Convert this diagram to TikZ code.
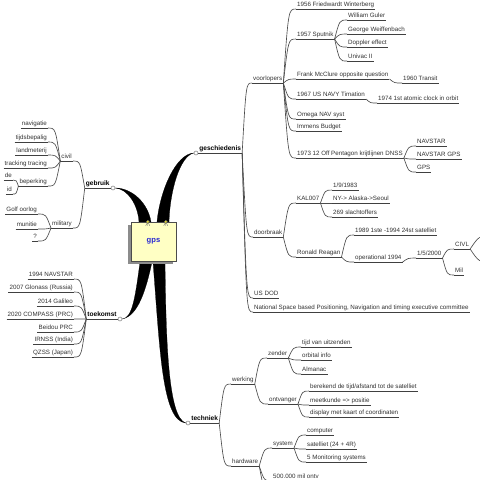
\documentclass[tikz,border=0pt]{standalone}
\usepackage{fontspec}
\setmainfont{Liberation Sans}
\usetikzlibrary{calc,shadows}
\definecolor{notegray}{RGB}{50,50,50}
\definecolor{boxyellow}{RGB}{255,255,196}
\definecolor{gpsblue}{RGB}{40,40,210}
\definecolor{pinyellow}{RGB}{230,220,40}

\begin{document}
\begin{tikzpicture}[
    x=0.03cm, y=-0.03cm,
    topic/.style={font=\fontsize{5.3}{6}\selectfont, text=notegray, inner sep=0.8pt,
      text height=3.8pt, text depth=1.1pt,
      append after command={([yshift=-0.6pt]\tikzlastnode.south west) edge[ushadow] ([yshift=-0.6pt]\tikzlastnode.south east)
        (\tikzlastnode.south west) edge[uline] (\tikzlastnode.south east)}},
    rt/.style={topic, anchor=west},
    lt/.style={topic, anchor=east},
    main/.style={topic, font=\fontsize{5.6}{6}\selectfont\bfseries, text=black},
    uline/.style={draw=black!75, line width=0.55pt},
    ushadow/.style={draw=black!25, line width=0.5pt},
    link/.style={draw=black!70, line width=0.55pt,
      to path={let \p1=(\tikztostart), \p2=(\tikztotarget) in
        .. controls ({0.6*\x1+0.4*\x2},\y2) .. (\p2)}},
    knob/.style={circle, draw=black!55, fill=white, line width=0.4pt, inner sep=0pt, minimum size=0.12cm},
    trunk/.style={fill=black, draw=black, line width=0.2pt}
  ]
  \useasboundingbox (0,0) rectangle (480,480);
  \fill[white] (0,0) rectangle (480,480);
  \clip (0,0) rectangle (480,480);

  \node[knob] (kgebruik) at (113,188) {};
  \node[knob] (kgeschiedenis) at (196,153) {};
  \node[knob] (ktoekomst) at (120,319) {};
  \node[knob] (ktechniek) at (188,423) {};

  \path[trunk] (139,222) .. controls (138,205) and (128,189) .. (kgebruik.east)
    .. controls (132,188) and (148,203) .. (151,222) -- cycle;
  \path[trunk] (157,222) .. controls (160,190) and (176,154) .. (kgeschiedenis.west)
    .. controls (180,156) and (170,190) .. (169,222) -- cycle;
  \path[trunk] (140,262) .. controls (135,300) and (132,318) .. (ktoekomst.east)
    .. controls (138,316) and (146,290) .. (152,262) -- cycle;
  \path[trunk] (153,262) .. controls (160,350) and (162,421) .. (ktechniek.west)
    .. controls (168,418) and (166,340) .. (165,262) -- cycle;

  \node[draw=black!70, fill=boxyellow, minimum width=1.35cm, minimum height=1.17cm,
    drop shadow={shadow xshift=-0.09cm, shadow yshift=-0.09cm, fill=black!45, opacity=1},
    font=\fontsize{6.5}{7}\selectfont\bfseries, text=gpsblue] (gps) at (153.5,241.5) {gps};
  \foreach \dx in {17,35} {
    \draw[black!60, line width=0.3pt] ($(gps.north west)+(\dx,0)$) -- ++(-2,4)
      ($(gps.north west)+(\dx,0)$) -- ++(0,4) ($(gps.north west)+(\dx,0)$) -- ++(2,4);
    \filldraw[fill=pinyellow, draw=black!60, line width=0.3pt] ($(gps.north west)+(\dx,0)$) circle (1.3pt);
  }

  % gebruik
  \node[main, anchor=south east] (gebruik) at (kgebruik.west) {gebruik};
  \node[lt] (civil) at (73,157) {civil};
  \node[lt] (navigatie) at (48,124) {navigatie};
  \node[lt] (tijdsbepalig) at (48,138) {tijdsbepalig};
  \node[lt] (landmeterij) at (48,151) {landmeterij};
  \node[lt] (tracking) at (48,164) {tracking tracing};
  \node[lt] (beperking) at (48,182) {beperking};
  \node[lt] (beperkA) at (13,176) {de};
  \node[lt] (beperkB) at (13,190) {id};
  \node[lt] (military) at (73,224) {military};
  \node[lt] (golf) at (38,210) {Golf oorlog};
  \node[lt] (munitie) at (38,225) {munitie};
  \node[lt] (vraag) at (38,237) {?};
  \foreach \c in {civil,military} \draw[link] (gebruik.south west) to (\c.south east);
  \foreach \c in {navigatie,tijdsbepalig,landmeterij,tracking,beperking}
    \draw[link] (civil.south west) to (\c.south east);
  \foreach \c in {beperkA,beperkB} \draw[link] (beperking.south west) to (\c.south east);
  \foreach \c in {golf,munitie,vraag} \draw[link] (military.south west) to (\c.south east);

  % toekomst
  \node[main, anchor=south east] (toekomst) at (ktoekomst.west) {toekomst};
  \node[lt] (navstar94) at (74,275) {1994 NAVSTAR};
  \node[lt] (glonass) at (74,288) {2007 Glonass (Russia)};
  \node[lt] (galileo) at (74,302) {2014 Galileo};
  \node[lt] (compass) at (74,315) {2020 COMPASS (PRC)};
  \node[lt] (beidou) at (74,328) {Beidou PRC};
  \node[lt] (irnss) at (74,340) {IRNSS (India)};
  \node[lt] (qzss) at (74,353) {QZSS (Japan)};
  \foreach \c in {navstar94,glonass,galileo,compass,beidou,irnss,qzss}
    \draw[link] (toekomst.south west) to (\c.south east);

  % geschiedenis
  \node[main, anchor=south west] (geschiedenis) at (kgeschiedenis.east) {geschiedenis};
  \node[rt] (voorlopers) at (252,79) {voorlopers};
  \node[rt] (winterberg) at (296,5) {1956 Friedwardt Winterberg};
  \node[rt] (sputnik) at (296,35) {1957 Sputnik};
  \node[rt] (guler) at (347,16) {William Guler};
  \node[rt] (weiffenbach) at (347,30) {George Weiffenbach};
  \node[rt] (doppler) at (347,43) {Doppler effect};
  \node[rt] (univac) at (347,57) {Univac II};
  \node[rt] (mcclure) at (296,75) {Frank McClure opposite question};
  \node[rt] (transit) at (402,79) {1960 Transit};
  \node[rt] (timation) at (296,95) {1967 US NAVY Timation};
  \node[rt] (atomic) at (377,99) {1974 1st atomic clock in orbit};
  \node[rt] (omega) at (296,115) {Omega NAV syst};
  \node[rt] (budget) at (296,127) {Immens Budget};
  \node[rt] (dnss) at (296,154) {1973 12 Off Pentagon krijtlijnen DNSS};
  \node[rt] (navstar) at (416,142) {NAVSTAR};
  \node[rt] (navstargps) at (416,155) {NAVSTAR GPS};
  \node[rt] (gpsname) at (416,168) {GPS};
  \node[rt] (doorbraak) at (253,233) {doorbraak};
  \node[rt] (kal) at (296,199) {KAL007};
  \node[rt] (datum) at (332,186) {1/9/1983};
  \node[rt] (route) at (332,199) {NY-> Alaska->Seoul};
  \node[rt] (slachtoffers) at (332,213) {269 slachtoffers};
  \node[rt] (reagan) at (296,253) {Ronald Reagan};
  \node[rt] (satelliet) at (354,231) {1989 1ste -1994 24st satelliet};
  \node[rt] (operational) at (354,258) {operational 1994};
  \node[rt] (mei) at (416,254) {1/5/2000};
  \node[rt] (civl) at (454,245) {CIVL};
  \node[rt] (mil) at (454,271) {Mil};
  \coordinate (civlup) at (492,236);
  \coordinate (civldown) at (492,262);
  \node[rt] (usdod) at (253,294) {US DOD};
  \node[rt] (national) at (253,308) {National Space based Positioning, Navigation and timing executive committee};
  \foreach \c in {voorlopers,doorbraak,usdod,national}
    \draw[link] (geschiedenis.south east) to (\c.south west);
  \foreach \c in {winterberg,sputnik,mcclure,timation,omega,budget,dnss}
    \draw[link] (voorlopers.south east) to (\c.south west);
  \foreach \c in {guler,weiffenbach,doppler,univac} \draw[link] (sputnik.south east) to (\c.south west);
  \draw[link] (mcclure.south east) to (transit.south west);
  \draw[link] (timation.south east) to (atomic.south west);
  \foreach \c in {navstar,navstargps,gpsname} \draw[link] (dnss.south east) to (\c.south west);
  \foreach \c in {kal,reagan} \draw[link] (doorbraak.south east) to (\c.south west);
  \foreach \c in {datum,route,slachtoffers} \draw[link] (kal.south east) to (\c.south west);
  \foreach \c in {satelliet,operational} \draw[link] (reagan.south east) to (\c.south west);
  \draw[link] (operational.south east) to (mei.south west);
  \foreach \c in {civl,mil} \draw[link] (mei.south east) to (\c.south west);
  \foreach \c in {civlup,civldown} \draw[link] (civl.south east) to (\c);

  % techniek
  \node[main, anchor=south west] (techniek) at (ktechniek.east) {techniek};
  \node[rt] (werking) at (231,380) {werking};
  \node[rt] (zender) at (267,354) {zender};
  \node[rt] (uitzenden) at (301,343) {tijd van uitzenden};
  \node[rt] (orbital) at (301,356) {orbital info};
  \node[rt] (almanac) at (301,370) {Almanac};
  \node[rt] (ontvanger) at (268,400) {ontvanger};
  \node[rt] (berekend) at (309,387) {berekend de tijd/afstand tot de satelliet};
  \node[rt] (meetkunde) at (309,401) {meetkunde => positie};
  \node[rt] (display) at (309,413) {display met kaart of coordinaten};
  \node[rt] (hardware) at (231,462) {hardware};
  \node[rt] (system) at (272,444) {system};
  \node[rt] (computer) at (306,431) {computer};
  \node[rt] (satellieten) at (306,445) {satelliet (24 + 4R)};
  \node[rt] (monitoring) at (306,458) {5 Monitoring systems};
  \node[rt] (ontv) at (272,477) {500.000 mil ontv};
  \coordinate (hwmore) at (278,505);
  \foreach \c in {werking,hardware} \draw[link] (techniek.south east) to (\c.south west);
  \foreach \c in {zender,ontvanger} \draw[link] (werking.south east) to (\c.south west);
  \foreach \c in {uitzenden,orbital,almanac} \draw[link] (zender.south east) to (\c.south west);
  \foreach \c in {berekend,meetkunde,display} \draw[link] (ontvanger.south east) to (\c.south west);
  \foreach \c in {system,ontv} \draw[link] (hardware.south east) to (\c.south west);
  \draw[link] (hardware.south east) to (hwmore);
  \foreach \c in {computer,satellieten,monitoring} \draw[link] (system.south east) to (\c.south west);
\end{tikzpicture}
\end{document}
